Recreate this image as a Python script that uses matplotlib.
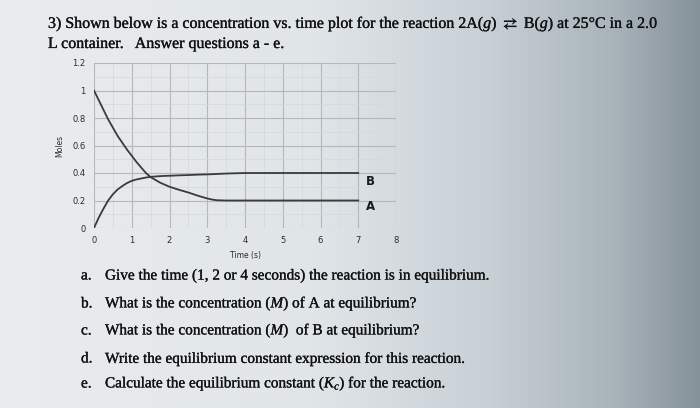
import numpy as np
import matplotlib
matplotlib.use('Agg')
import matplotlib.pyplot as plt
import matplotlib.patheffects as pe
from matplotlib.colors import LinearSegmentedColormap

# valores (mols x tempo)
time_s = [0, 0.125, 0.25, 0.375, 0.5, 0.625, 0.75, 0.875, 1, 1.125, 1.25,
          1.375, 1.5, 1.625, 1.75, 1.875, 2, 2.25, 2.5, 2.75, 3, 3.125, 3.25,
          3.5, 4, 5, 6, 7]
moles_a = [1.0, 0.93, 0.86, 0.79, 0.73, 0.67, 0.62, 0.57, 0.525, 0.48, 0.44,
           0.40, 0.37, 0.35, 0.33, 0.315, 0.30, 0.278, 0.258, 0.235, 0.215,
           0.207, 0.202, 0.2, 0.2, 0.2, 0.2, 0.2]
moles_b = [0, 0.075, 0.14, 0.2, 0.245, 0.28, 0.305, 0.327, 0.343, 0.353, 0.36,
           0.367, 0.372, 0.375, 0.377, 0.379, 0.38, 0.383, 0.385, 0.388, 0.39,
           0.391, 0.393, 0.396, 0.4, 0.4, 0.4, 0.4]

x_ticks = [0, 1, 2, 3, 4, 5, 6, 7, 8]
y_ticks = [0, 0.2, 0.4, 0.6, 0.8, 1, 1.2]
y_tick_labels = ['0', '0.2', '0.4', '0.6', '0.8', '1', '1.2']

header = ['3) Shown below is a concentration vs. time plot for the reaction '
          '2A($g$) $\\rightleftarrows$ B($g$) at 25°C in a 2.0',
          'L container.   Answer questions a - e.']
question_letters = ['a.', 'b.', 'c.', 'd.', 'e.']
questions = [
    'Give the time (1, 2 or 4 seconds) the reaction is in equilibrium.',
    'What is the concentration ($M$) of A at equilibrium?',
    'What is the concentration ($M$)  of B at equilibrium?',
    'Write the equilibrium constant expression for this reaction.',
    'Calculate the equilibrium constant ($K_c$) for the reaction.',
]

plt.rcParams['mathtext.fontset'] = 'custom'
plt.rcParams['mathtext.it'] = 'Liberation Serif:italic'
plt.rcParams['mathtext.rm'] = 'Liberation Serif'

fig = plt.figure(figsize=(7, 4.08), dpi=100)

# fundo da foto: degradê claro à esquerda, azulado/escuro à direita
bg = fig.add_axes([0, 0, 1, 1], zorder=-10)
bg.axis('off')
cmap = LinearSegmentedColormap.from_list(
    'paper', [(0, '#eaedef'), (0.45, '#e0e5e8'), (0.7, '#c8d0d6'),
              (0.88, '#a8b3ba'), (1, '#86929a')])
grad = np.tile(np.linspace(0, 1, 256), (32, 1))
bg.imshow(grad, aspect='auto', cmap=cmap, extent=[0, 1, 0, 1])
bg.set_xlim(0, 1)
bg.set_ylim(0, 1)

# texto do enunciado
serif = 'Liberation Serif'
ink = [pe.withStroke(linewidth=0.2, foreground='#111111')]
bg.text(48 / 700, 1 - 24 / 408, header[0], fontsize=11.5, family=serif,
        va='center', ha='left', color='#111111', path_effects=ink)
bg.text(48 / 700, 1 - 44 / 408, header[1], fontsize=11.5, family=serif,
        va='center', ha='left', color='#111111', path_effects=ink)
q_y = [276, 304, 331, 359, 384]
for letter, q, yy in zip(question_letters, questions, q_y):
    bg.text(81 / 700, 1 - yy / 408, letter, fontsize=11, family=serif,
            va='center', ha='left', color='#111111', path_effects=ink)
    bg.text(105 / 700, 1 - yy / 408, q, fontsize=11, family=serif,
            va='center', ha='left', color='#111111', path_effects=ink)

# gráfico
ax = fig.add_axes([94 / 700, 1 - 228 / 408, 302 / 700, 165 / 408])
ax.set_facecolor('none')
ax.plot(time_s, moles_a, color='#3a3a3a', lw=1.3)
ax.plot(time_s, moles_b, color='#3a3a3a', lw=1.3)
ax.text(7.2, 0.335, 'B', fontsize=8.5, fontweight='bold', color='#1a1a1a',
        va='center', ha='left')
ax.text(7.2, 0.16, 'A', fontsize=8.5, fontweight='bold', color='#1a1a1a',
        va='center', ha='left')

ax.set_xlim(0, 8)
ax.set_ylim(0, 1.2)
ax.set_xticks(x_ticks)
ax.set_yticks(y_ticks)
ax.set_yticklabels(y_tick_labels)
ax.set_xticks(np.arange(0, 8.01, 0.5), minor=True)
ax.set_yticks(np.arange(0, 1.201, 0.1), minor=True)
ax.grid(which='major', color='#b4b8bc', lw=0.8)
ax.grid(which='minor', color='#d4d8db', lw=0.5)
ax.tick_params(which='both', length=0, labelsize=6, colors='#2a2a2a', pad=6)
for s in ax.spines.values():
    s.set_visible(False)
ax.set_xlabel('Time (s)', fontsize=5.5, color='#2a2a2a', labelpad=4)
ax.set_ylabel('Moles', fontsize=5.5, color='#2a2a2a', labelpad=6)

fig.savefig('out.png', dpi=100)
